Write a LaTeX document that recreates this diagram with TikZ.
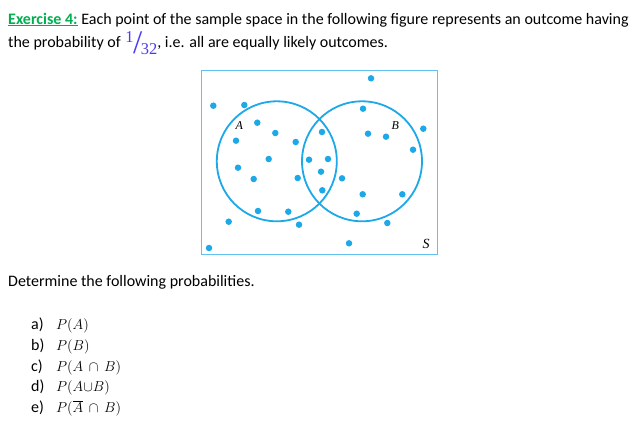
\documentclass[tikz,border=0pt]{standalone}
\usepackage{fontspec}
\setmainfont{Carlito}
\newfontfamily\serifA{Liberation Serif}
\definecolor{exgreen}{HTML}{00B050}
\definecolor{fracblue}{HTML}{4B3BF0}
\definecolor{dotblue}{HTML}{1DA8E8}
\tikzset{
  body/.style={anchor=base west, inner sep=0pt, font=\fontsize{16}{19}\selectfont},
  item/.style={anchor=base west, inner sep=0pt, font=\fontsize{16}{19}\selectfont},
  mathitem/.style={anchor=base west, inner sep=0pt, font=\fontsize{15}{18}\selectfont},
  dot/.style={circle, fill=dotblue, inner sep=0pt, minimum size=6.5pt},
  setcirc/.style={circle, draw=dotblue, line width=1.8pt, inner sep=0pt, minimum size=120pt},
  setlabel/.style={inner sep=0pt, font=\serifA\itshape\fontsize{12}{14}\selectfont}
}
\begin{document}
\begin{tikzpicture}[x=1pt,y=-1pt]
\useasboundingbox (0,0) rectangle (644,434);
\fill[white] (0,0) rectangle (644,434);
\node[body] (l1) at (8,24) {{\color{exgreen}\textbf{\underline{Exercise 4:}}} Each point of the sample space in the following figure represents an outcome having};
\node[body] (l2) at (8,47.7) {the probability of {\color{fracblue}\serifA\kern1pt\raisebox{5pt}{\fontsize{16.5}{16}\selectfont 1}\kern-0.5pt\raisebox{-5.5pt}{\fontsize{33}{33}\selectfont /}\kern-1.5pt\raisebox{-7pt}{\fontsize{16.5}{16}\selectfont 32}}, i.e. all are equally likely outcomes.};
% Venn diagram
\node[draw=dotblue!70, line width=0.9pt, inner sep=0pt, minimum width=236pt, minimum height=184pt] (S) at (319,162) {};
\node[setcirc] (A) at (276.8,161.3) {};
\node[setcirc] (B) at (362,161.3) {};
\node[setlabel] (la) at (239.3,126) {A};
\node[setlabel] (lb) at (395.3,126) {B};
\node[setlabel, font=\serifA\itshape\fontsize{14}{16}\selectfont] (ls) at (426,244) {S};
\foreach \x/\y [count=\i] in {371/78.3, 213.3/105.7, 244.3/105, 363/108.7, 257.3/122.7, 423.3/128.7, 275.3/133, 322/132, 368/133.7, 386/136.7, 236/140.7, 295.7/142, 413/149.7, 268.7/159, 309/159.7, 328/159, 238/167.7, 321/171.7, 253.7/179, 297.7/178, 342/178.3, 322.3/190.3, 362.7/194.3, 402.3/194.3, 258/211, 288.3/211.7, 356.7/213.7, 228.7/221.7, 299/224.7, 387.3/223, 349/243.3, 209/248}
  \node[dot] (d\i) at (\x,\y) {};
% questions
\node[body] (q) at (8,286) {Determine the following probabilities.};
\node[item] (ia) at (31,329.5) {a)};
\node[item] (ib) at (31,350.5) {b)};
\node[item] (ic) at (31,371) {c)};
\node[item] (id) at (31,391.5) {d)};
\node[item] (ie) at (31,412) {e)};
\node[mathitem] (ma) at (56,329.5) {$P(A)$};
\node[mathitem] (mb) at (56,350.5) {$P(B)$};
\node[mathitem] (mc) at (56,371) {$P(A\,\cap\,B)$};
\node[mathitem] (md) at (56,391.5) {$P(A{\cup}B)$};
\node[mathitem] (me) at (56,412) {$P(\overline{A}\,\cap\,B)$};
\end{tikzpicture}
\end{document}
